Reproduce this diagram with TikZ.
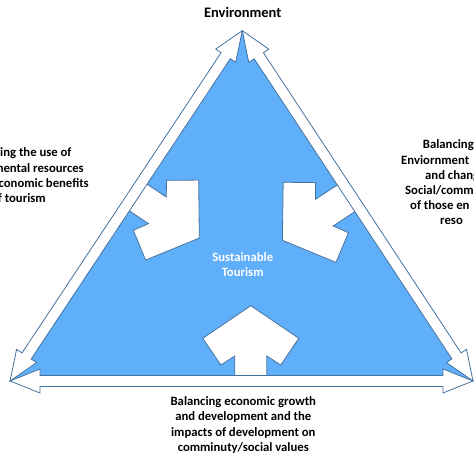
\documentclass[tikz,border=0pt]{standalone}
\usepackage{fontspec}
\setmainfont{Carlito}
\usetikzlibrary{calc}
\definecolor{tribg}{RGB}{96,175,250}
\definecolor{edgeblue}{RGB}{68,114,160}
\tikzset{
  dblarrow/.style={draw=edgeblue, fill=white, line width=0.8pt, line join=miter},
  inarrow/.style={draw=edgeblue, fill=white, line width=0.8pt, line join=miter},
  lbl/.style={font=\fontsize{12.7}{15.2}\selectfont\bfseries, text=black, inner sep=0pt},
  wlbl/.style={font=\fontsize{12.7}{14.7}\selectfont\bfseries, text=white, inner sep=0pt, align=center},
}
\newcommand\mkangle[2]{%
  \path let \p1=($(#2)-(#1)$) in \pgfextra{\pgfmathsetmacro\dAng{atan2(\y1,\x1)}\pgfmathsetmacro\dLen{veclen(\x1,\y1)}\xdef\DAng{\dAng}\xdef\DLen{\dLen}};}
\newcommand\mkdbl[2]{%
  \mkangle{#1}{#2}%
  \begin{scope}[shift={(#1)}, rotate=\DAng]
    \draw[dblarrow] (0,0) -- (30,12) -- (30,5.5) -- (\DLen-30,5.5) -- (\DLen-30,12) -- (\DLen,0)
      -- (\DLen-30,-12) -- (\DLen-30,-5.5) -- (30,-5.5) -- (30,-12) -- cycle;
  \end{scope}}
\newcommand\mkin[4]{%
  \mkangle{#1}{#2}%
  \begin{scope}[shift={(#1)}, rotate=\DAng, xshift=#3pt]
    \draw[inarrow] (-16,0) -- (-16,25+#4) -- (-30,16+#4) -- (-48,42.7+#4) -- (0,75.3+#4)
      -- (48,42.7+#4) -- (30,16+#4) -- (16,25+#4) -- (16,0) -- cycle;
  \end{scope}}
\begin{document}
\begin{tikzpicture}[x=1pt,y=1pt]
  \clip (0,0) rectangle (474,474);
  \fill[white] (0,0) rectangle (474,474);
  \coordinate (T) at (242.3,443.3);
  \coordinate (L) at (10,93);
  \coordinate (R) at (473,93);
  \fill[tribg] (T) -- (L) -- (R) -- cycle;
  \mkin{L}{R}{240.8}{0}
  \mkin{R}{T}{222.4}{6.5}
  \mkin{T}{L}{196.6}{3.5}
  \mkdbl{L}{R}
  \mkdbl{R}{T}
  \mkdbl{T}{L}
  \node[lbl, font=\fontsize{14.5}{17}\selectfont\bfseries] (env) at (242.7,462) {Environment};
  \node[wlbl] (st) at (242.7,209.3) {Sustainable\\Tourism};
  \node[lbl, align=center] (eco) at (243.3,49) {Balancing economic growth\\and development and the\\impacts of development on\\comminuty/social values};
  \node[lbl, anchor=mid east] (l1) at (71.7,320) {ing the use of};
  \node[lbl, anchor=mid east] (l2) at (84,304) {mental resources};
  \node[lbl, anchor=mid east] (l3) at (89,289) {conomic benefits};
  \node[lbl, anchor=mid east] (l4) at (46,274) {f tourism};
  \node[lbl, anchor=mid west] (r1) at (422.7,328) {Balancing};
  \node[lbl, anchor=mid west] (r2) at (401,312.3) {Enviornment};
  \node[lbl, anchor=mid west] (r3) at (425,297.3) {and chang};
  \node[lbl, anchor=mid west] (r4) at (405,282.3) {Social/comm};
  \node[lbl, anchor=mid west] (r5) at (410,267.3) {of those en};
  \node[lbl, anchor=mid west] (r6) at (440,251.7) {reso};
\end{tikzpicture}
\end{document}
